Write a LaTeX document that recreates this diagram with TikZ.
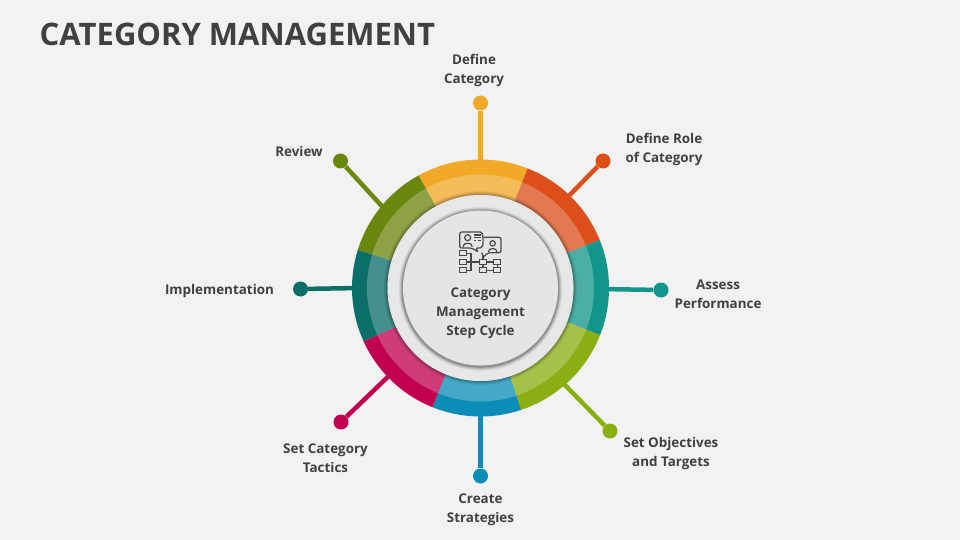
\documentclass[tikz,border=0pt]{standalone}
\usepackage{fontspec}
\usetikzlibrary{calc}
\setmainfont{Open Sans}
\begin{document}
\begin{tikzpicture}[x=1pt,y=-1pt,
  lbl/.style={font=\fontsize{13.4}{19}\selectfont\bfseries,text=txt,align=center,inner sep=0pt},
  dotn/.style={circle,inner sep=0pt,minimum size=15pt},
  spoke/.style={line width=4.5pt},
  ic/.style={draw=icn,line width=1.2pt,fill=none},
  bx/.style={draw=icn,line width=1.2pt,rectangle,inner sep=0pt,minimum width=7pt,minimum height=5pt}]
\definecolor{bg}{HTML}{F2F2F2}
\definecolor{txt}{HTML}{404040}
\definecolor{icn}{HTML}{484848}
\definecolor{cy}{HTML}{F2A927}
\definecolor{cr}{HTML}{DC4F1B}
\definecolor{ct}{HTML}{12958A}
\definecolor{cg}{HTML}{8BAE12}
\definecolor{cb}{HTML}{0B8DB8}
\definecolor{cp}{HTML}{C1004F}
\definecolor{cd}{HTML}{0B6E68}
\definecolor{co}{HTML}{6B870F}
\useasboundingbox (0,0) rectangle (960,540);
\fill[bg] (0,0) rectangle (960,540);
\node[anchor=west,inner sep=0pt,font=\fontsize{31}{36}\selectfont\bfseries,text=txt] (title) at (39.5,34.5) {CATEGORY MANAGEMENT};
\coordinate (c) at (480.5,288);
% dots
\node[dotn,fill=cy] (d1) at (480.5,103) {};
\node[dotn,fill=cr] (d2) at (603,161) {};
\node[dotn,fill=ct] (d3) at (661,290) {};
\node[dotn,fill=cg] (d4) at (610,431) {};
\node[dotn,fill=cb] (d5) at (480.5,476) {};
\node[dotn,fill=cp] (d6) at (341,422) {};
\node[dotn,fill=cd] (d7) at (300.5,289) {};
\node[dotn,fill=co] (d8) at (340.5,161) {};
% spokes
\coordinate (e1) at (480.5,170);
\coordinate (e2) at (560,205);
\coordinate (e3) at (600,289);
\coordinate (e4) at (560,380);
\coordinate (e5) at (480.5,405);
\coordinate (e6) at (395,370);
\coordinate (e7) at (360,288);
\coordinate (e8) at (390,215);
\draw[spoke,cy] (d1) -- (e1);
\draw[spoke,cr] (d2) -- (e2);
\draw[spoke,ct] (d3) -- (e3);
\draw[spoke,cg] (d4) -- (e4);
\draw[spoke,cb] (d5) -- (e5);
\draw[spoke,cp] (d6) -- (e6);
\draw[spoke,cd] (d7) -- (e7);
\draw[spoke,co] (d8) -- (e8);
% ring: y axis is flipped so angles are negated
\foreach \a/\b/\col in {118.8/68.5/cy,68.5/22/cr,22/-21.5/ct,-21.5/-71.6/cg,-71.6/-112/cb,-112/-155.5/cp,-155.5/-197.3/cd,162.7/118.8/co}{
  \fill[\col] ([shift={(-\a:128.5)}]c) arc[start angle=-\a,end angle=-\b,radius=128.5]
     -- ([shift={(-\b:93)}]c) arc[start angle=-\b,end angle=-\a,radius=93] -- cycle;
  \fill[white,opacity=.24] ([shift={(-\a:113.5)}]c) arc[start angle=-\a,end angle=-\b,radius=113.5]
     -- ([shift={(-\b:93)}]c) arc[start angle=-\b,end angle=-\a,radius=93] -- cycle;
}
% hub
\foreach \r/\o in {97/.05,96/.07,95/.09,94/.1}{\fill[black,opacity=\o] (c) circle[radius=\r];}
\fill[fill=black!9.5] (c) circle[radius=93];
\foreach \r/\o in {82/.05,81/.08,80/.12,79/.18}{\fill[black,opacity=\o] ($(c)+(0,.8)$) circle[radius=\r];}
\fill[fill=black!10] (c) circle[radius=77.5];
% icon
\begin{scope}[shift={(445,220)},x=.3333pt,y=-.3333pt]
\draw[ic,rounded corners=2pt] (44,36) -- (112,36) -- (115,66) -- (112,84) -- (92,84) -- (100,96) -- (80,84) -- (44,84) -- cycle;
\draw[ic,rounded corners=2pt] (116,52) -- (168,52) -- (168,98) -- (128,98) -- (116,112) -- (110,98);
\draw[ic] (68,53) circle[radius=9];
\draw[ic] (54,80) .. controls (54,66) and (82,66) .. (82,80);
\draw[ic] (143,70) circle[radius=8];
\draw[ic] (130,96) .. controls (130,82) and (156,82) .. (156,96);
\draw[ic] (88,45) -- (108,45) (88,53) -- (108,53) (88,61) -- (94,61) (98,61) -- (108,61);
\node[bx] (b1) at (54,100) {};
\node[bx] (b2) at (54,126) {};
\node[bx] (b3) at (54,151) {};
\node[bx] (b4) at (114,126) {};
\node[bx] (b5) at (157,126) {};
\node[bx] (b6) at (114,151) {};
\node[bx] (b7) at (157,151) {};
\draw[ic] (b2) -- (b4);
\draw[ic] (b4) -- (b5);
\draw[ic] (b6) -- (b7);
\draw[ic] (b4) -- (b6);
\draw[ic] (b5) -- (b7);
\draw[ic] (b1.east) -- (78,100) -- (78,151) -- (b3.east);
\draw[ic] (114,108) -- (b4.north);
\end{scope}
% text
\node[lbl] (hub) at (480.5,313) {Category\\Management\\Step Cycle};
\node[lbl] (l1) at (474,70.5) {Define\\Category};
\node[lbl] (l2) at (664,149.5) {Define Role\\of Category};
\node[lbl] (l3) at (718,294.5) {Assess\\Performance};
\node[lbl] (l4) at (671,454) {Set Objectives\\and Targets};
\node[lbl] (l5) at (480.5,509.5) {Create\\Strategies};
\node[lbl] (l6) at (325.5,458.5) {Set Category\\Tactics};
\node[lbl] (l7) at (219.5,291) {Implementation};
\node[lbl] (l8) at (299,151) {Review};
\end{tikzpicture}
\end{document}
